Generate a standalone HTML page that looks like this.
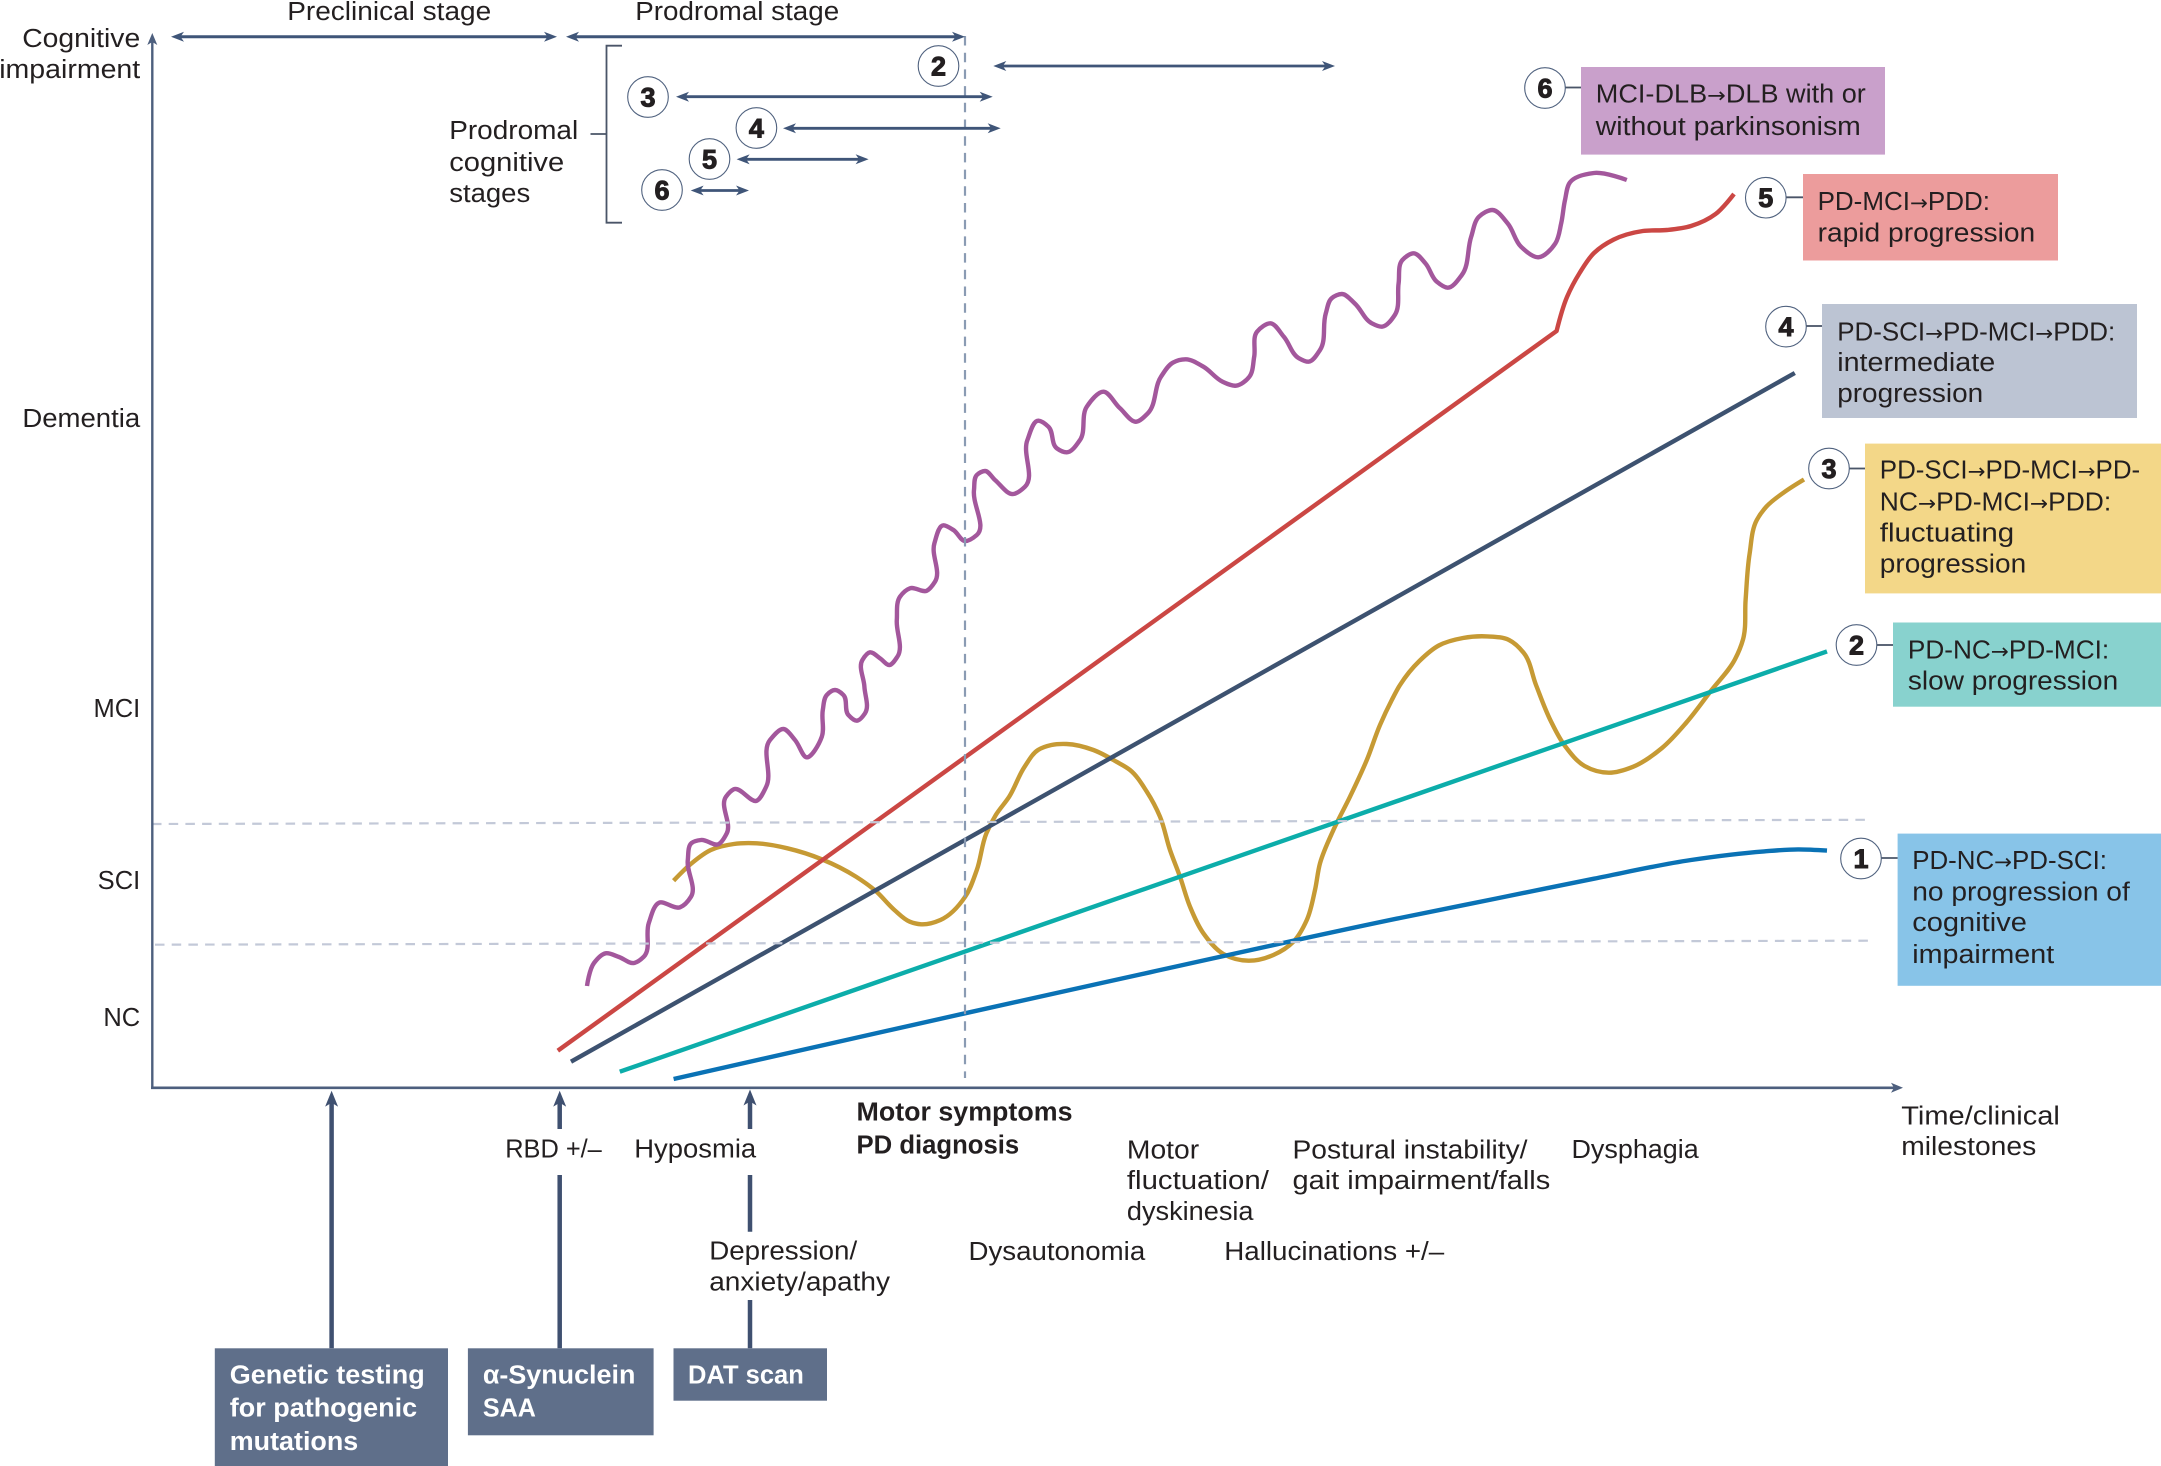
<!DOCTYPE html>
<html lang="en">
<head>
<meta charset="utf-8">
<title>Cognitive impairment trajectories in Parkinson disease</title>
<style>
html,body{margin:0;padding:0;background:#fff;}
svg{display:block;}
text{font-family:"Liberation Sans",sans-serif;font-size:25.5px;fill:#231f20;transform:translateX(-.8px);}
.b{font-weight:700;}
.w{font-weight:700;fill:#fff;}
.n{font-weight:700;font-size:27px;stroke:#231f20;stroke-width:1px;text-anchor:middle;transform:none;}
.ar{font-family:"DejaVu Sans",sans-serif;font-size:21px;}
.c{fill:#fff;stroke:#50627f;stroke-width:1.1;}
.k{stroke:#4a5568;stroke-width:1.8;fill:none;}
.a{stroke:#3f5578;stroke-width:3;fill:none;marker-start:url(#head);marker-end:url(#head);}
.v{stroke:#3f5070;stroke-width:4.5;fill:none;}
</style>
</head>
<body>
<svg id="chart" xmlns="http://www.w3.org/2000/svg" width="2161" height="1466" viewBox="0 0 2161 1466">
<defs>
<marker id="head" markerUnits="userSpaceOnUse" markerWidth="14" markerHeight="11" refX="7" refY="5.5" orient="auto-start-reverse"><path d="M0 .5 13 5.5 0 10.5 3.5 5.5Z" fill="#3f5578"/></marker>
<marker id="head-lg" markerUnits="userSpaceOnUse" markerWidth="17" markerHeight="14" refX="9" refY="7" orient="auto"><path d="M0 .5 16 7 0 13.5 4 7Z" fill="#3f5070"/></marker>
<marker id="head-axis" markerUnits="userSpaceOnUse" markerWidth="14" markerHeight="11" refX="5" refY="5.5" orient="auto"><path d="M0 .5 12 5.5 0 10.5 3 5.5Z" fill="#4d5f7e"/></marker>
</defs>

<g id="series-layer"></g>

<line x1="152.3" y1="1088.5" x2="152.3" y2="40" stroke="#4d5f7e" stroke-width="2.4" marker-end="url(#head-axis)"/>
<line x1="151" y1="1087.8" x2="1896" y2="1087.8" stroke="#4d5f7e" stroke-width="2.6" marker-end="url(#head-axis)"/>

<g>
<text x="23" y="47" textLength="118" lengthAdjust="spacingAndGlyphs">Cognitive</text>
<text x="0" y="78" textLength="141" lengthAdjust="spacingAndGlyphs">impairment</text>
</g>
<g id="y-ticks"></g>
<g>
<text x="1902" y="1124.5" textLength="158.7" lengthAdjust="spacingAndGlyphs">Time/clinical</text>
<text x="1902" y="1155" textLength="135" lengthAdjust="spacingAndGlyphs">milestones</text>
</g>

<text x="288" y="20" textLength="204" lengthAdjust="spacingAndGlyphs">Preclinical stage</text>
<text x="636" y="20" textLength="204" lengthAdjust="spacingAndGlyphs">Prodromal stage</text>
<line class="a" x1="177" y1="36.7" x2="551" y2="36.7"/>
<line class="a" x1="572" y1="36.7" x2="959" y2="36.7"/>

<g>
<text x="450" y="139" textLength="129" lengthAdjust="spacingAndGlyphs">Prodromal</text>
<text x="450" y="171" textLength="115" lengthAdjust="spacingAndGlyphs">cognitive</text>
<text x="450" y="202" textLength="81" lengthAdjust="spacingAndGlyphs">stages</text>
</g>
<path class="k" d="M622 45.7H606.5V222.7H622M590.5 134H606.5"/>

<g>
<circle class="c" cx="938.5" cy="66" r="20.3"/>
<text class="n" x="938.5" y="75.5">2</text>
<line class="a" x1="999.3" y1="66" x2="1329" y2="66" style="stroke-width:2.8"/>
</g>
<g>
<circle class="c" cx="648" cy="97" r="20.3"/>
<text class="n" x="648" y="106.5">3</text>
<line class="a" x1="682" y1="96.7" x2="986.7" y2="96.7" style="stroke-width:2.8"/>
</g>
<g>
<circle class="c" cx="756.4" cy="128" r="20.3"/>
<text class="n" x="756.4" y="137.5">4</text>
<line class="a" x1="789" y1="128.3" x2="994.7" y2="128.3" style="stroke-width:2.8"/>
</g>
<g>
<circle class="c" cx="709.5" cy="159" r="20.3"/>
<text class="n" x="709.5" y="168.5">5</text>
<line class="a" x1="742.6" y1="159.3" x2="862.6" y2="159.3" style="stroke-width:2.8"/>
</g>
<g>
<circle class="c" cx="662" cy="190" r="20.3"/>
<text class="n" x="662" y="199.5">6</text>
<line class="a" x1="696.7" y1="190.5" x2="743" y2="190.5" style="stroke-width:2.8"/>
</g>

<g>
<rect x="1581" y="67" width="304" height="87.6" fill="#c9a0cb"/>
<line class="k" x1="1565" y1="87.5" x2="1581" y2="87.5"/>
<circle class="c" cx="1545" cy="88" r="20.3"/>
<text class="n" x="1545" y="97.5">6</text>
<text x="1596.6" y="102.5" textLength="270" lengthAdjust="spacingAndGlyphs">MCI-DLB<tspan class="ar">→</tspan>DLB with or</text>
<text x="1596.6" y="134.9" textLength="265" lengthAdjust="spacingAndGlyphs">without parkinsonism</text>
</g>
<g>
<rect x="1803" y="174" width="255" height="86.5" fill="#ec9c9c"/>
<line class="k" x1="1786" y1="197.3" x2="1803" y2="197.3"/>
<circle class="c" cx="1765.8" cy="197.7" r="20.3"/>
<text class="n" x="1765.8" y="207.2">5</text>
<text x="1818.4" y="210" textLength="172.4" lengthAdjust="spacingAndGlyphs">PD-MCI<tspan class="ar">→</tspan>PDD:</text>
<text x="1818.4" y="241.6" textLength="217.6" lengthAdjust="spacingAndGlyphs">rapid progression</text>
</g>
<g>
<rect x="1822" y="304" width="315" height="114" fill="#bcc4d3"/>
<line class="k" x1="1806" y1="326" x2="1822" y2="326"/>
<circle class="c" cx="1786" cy="326.6" r="20.3"/>
<text class="n" x="1786" y="336.1">4</text>
<text x="1838" y="340.4" textLength="278" lengthAdjust="spacingAndGlyphs">PD-SCI<tspan class="ar">→</tspan>PD-MCI<tspan class="ar">→</tspan>PDD:</text>
<text x="1838" y="371" textLength="158" lengthAdjust="spacingAndGlyphs">intermediate</text>
<text x="1838" y="402" textLength="146" lengthAdjust="spacingAndGlyphs">progression</text>
</g>
<g>
<rect x="1865" y="443.6" width="296" height="149.8" fill="#f3d788"/>
<line class="k" x1="1849" y1="468.5" x2="1865" y2="468.5"/>
<circle class="c" cx="1829" cy="468.5" r="20.3"/>
<text class="n" x="1829" y="478">3</text>
<text x="1880.6" y="478.7" textLength="260.4" lengthAdjust="spacingAndGlyphs">PD-SCI<tspan class="ar">→</tspan>PD-MCI<tspan class="ar">→</tspan>PD-</text>
<text x="1880.6" y="510.7" textLength="231.4" lengthAdjust="spacingAndGlyphs">NC<tspan class="ar">→</tspan>PD-MCI<tspan class="ar">→</tspan>PDD:</text>
<text x="1880.6" y="541.6" textLength="134.4" lengthAdjust="spacingAndGlyphs">fluctuating</text>
<text x="1880.6" y="572.4" textLength="146.4" lengthAdjust="spacingAndGlyphs">progression</text>
</g>
<g>
<rect x="1893" y="622.5" width="268" height="84.2" fill="#88d2ce"/>
<line class="k" x1="1877" y1="645" x2="1893" y2="645"/>
<circle class="c" cx="1856.5" cy="645" r="20.3"/>
<text class="n" x="1856.5" y="654.5">2</text>
<text x="1908.7" y="658.5" textLength="201.3" lengthAdjust="spacingAndGlyphs">PD-NC<tspan class="ar">→</tspan>PD-MCI:</text>
<text x="1908.7" y="689.3" textLength="210.3" lengthAdjust="spacingAndGlyphs">slow progression</text>
</g>
<g>
<rect x="1897.6" y="833.6" width="263.4" height="152.2" fill="#88c4e8"/>
<line class="k" x1="1881" y1="858" x2="1897.6" y2="858"/>
<circle class="c" cx="1861" cy="858.5" r="20.3"/>
<text class="n" x="1861" y="868">1</text>
<text x="1913" y="868.8" textLength="194.8" lengthAdjust="spacingAndGlyphs">PD-NC<tspan class="ar">→</tspan>PD-SCI:</text>
<text x="1913" y="900.4" textLength="217.6" lengthAdjust="spacingAndGlyphs">no progression of</text>
<text x="1913" y="931" textLength="114.7" lengthAdjust="spacingAndGlyphs">cognitive</text>
<text x="1913" y="962.8" textLength="142" lengthAdjust="spacingAndGlyphs">impairment</text>
</g>

<line class="v" x1="331.6" y1="1348.3" x2="331.6" y2="1097.7" marker-end="url(#head-lg)"/>
<line class="v" x1="559.7" y1="1129" x2="559.7" y2="1097.7" marker-end="url(#head-lg)"/>
<line class="v" x1="559.7" y1="1175" x2="559.7" y2="1348.3"/>
<line class="v" x1="750" y1="1129" x2="750" y2="1096.5" marker-end="url(#head-lg)"/>
<line class="v" x1="750" y1="1175" x2="750" y2="1231.7"/>
<line class="v" x1="750" y1="1300" x2="750" y2="1348.3"/>

<g>
<rect x="214.8" y="1348.3" width="233.2" height="118" fill="#5f6f8a"/>
<text class="w" x="230.6" y="1383.3" textLength="194.9" lengthAdjust="spacingAndGlyphs">Genetic testing</text>
<text class="w" x="230.6" y="1416.7" textLength="187.3" lengthAdjust="spacingAndGlyphs">for pathogenic</text>
<text class="w" x="230.6" y="1450" textLength="128.4" lengthAdjust="spacingAndGlyphs">mutations</text>
</g>
<g>
<rect x="467.9" y="1348.3" width="185.7" height="87" fill="#5f6f8a"/>
<text class="w" x="483.7" y="1383.3" textLength="152.5" lengthAdjust="spacingAndGlyphs">α-Synuclein</text>
<text class="w" x="483.7" y="1416.7" textLength="53" lengthAdjust="spacingAndGlyphs">SAA</text>
</g>
<g>
<rect x="673.5" y="1348.3" width="153.5" height="52.4" fill="#5f6f8a"/>
<text class="w" x="688.8" y="1383.3" textLength="115.8" lengthAdjust="spacingAndGlyphs">DAT scan</text>
</g>

<g>
<text x="506" y="1157.3" textLength="96.6" lengthAdjust="spacingAndGlyphs">RBD +/–</text>
<text x="635" y="1157.3" textLength="122" lengthAdjust="spacingAndGlyphs">Hyposmia</text>
<text class="b" x="857.3" y="1120.7" textLength="216" lengthAdjust="spacingAndGlyphs">Motor symptoms</text>
<text class="b" x="857.3" y="1153.3" textLength="162.7" lengthAdjust="spacingAndGlyphs">PD diagnosis</text>
<text x="1127.7" y="1158.3" textLength="72.3" lengthAdjust="spacingAndGlyphs">Motor</text>
<text x="1127.7" y="1189" textLength="142" lengthAdjust="spacingAndGlyphs">fluctuation/</text>
<text x="1127.7" y="1220" textLength="126.6" lengthAdjust="spacingAndGlyphs">dyskinesia</text>
<text x="1293.3" y="1158.3" textLength="235" lengthAdjust="spacingAndGlyphs">Postural instability/</text>
<text x="1293.3" y="1189" textLength="257.7" lengthAdjust="spacingAndGlyphs">gait impairment/falls</text>
<text x="1572.3" y="1158" textLength="127.2" lengthAdjust="spacingAndGlyphs">Dysphagia</text>
<text x="710" y="1259.3" textLength="148" lengthAdjust="spacingAndGlyphs">Depression/</text>
<text x="710" y="1290.7" textLength="180.8" lengthAdjust="spacingAndGlyphs">anxiety/apathy</text>
<text x="969.3" y="1260" textLength="176.7" lengthAdjust="spacingAndGlyphs">Dysautonomia</text>
<text x="1225" y="1260" textLength="220" lengthAdjust="spacingAndGlyphs">Hallucinations +/–</text>
</g>
</svg>

<script>
const yTickLabels = ['NC', 'SCI', 'MCI', 'Dementia'];
const yTickValues = [7.1, 20.8, 38, 67];

const pdDiagnosisTime = 40.65;

const thresholdSciTime = [0, 85.8];
const thresholdSciValue = [26.4, 26.82];
const thresholdNcTime = [0.15, 85.9];
const thresholdNcValue = [14.33, 14.73];

const series1Time = [26.08, 40.65, 49.9, 62.4, 67.25, 72.1, 76.95, 80.6, 82.3, 83.75];
const series1Value = [0.9, 7.47, 11.57, 17, 18.96, 20.93, 22.8, 23.66, 23.86, 23.74];

const series2Time = [23.39, 83.75];
const series2Value = [1.63, 43.66];

const series3Time = [26.08, 26.98, 27.94, 29.09, 30.24, 31.77, 33.49, 35.2, 36.17, 37.12, 37.89, 38.46, 39.42, 40.66, 41.24, 41.72, 42.19, 42.86, 43.63, 44.3, 44.97, 45.73, 47.07, 48.22, 48.9, 49.74, 50.4, 50.9, 51.4, 51.9, 52.57, 53.57, 54.82, 56.07, 57.07, 57.74, 58.15, 58.4, 59.07, 59.9, 60.74, 61.4, 61.99, 62.4, 63.37, 64.34, 65.55, 66.77, 67.85, 68.59, 69.2, 69.93, 70.65, 71.63, 72.84, 74.05, 75.5, 76.72, 77.94, 79.15, 79.55, 79.68, 79.88, 80.24, 80.73, 81.58, 82.6];
const series3Value = [20.73, 22.47, 23.8, 24.4, 24.47, 23.97, 22.87, 21.13, 19.73, 17.8, 16.63, 16.37, 16.8, 19.13, 21.8, 25.47, 27.3, 29.13, 32.13, 33.8, 34.3, 34.4, 33.8, 32.63, 31.8, 29.63, 27.13, 23.8, 21.13, 18.13, 15.47, 13.4, 12.73, 13.3, 14.63, 16.8, 19.8, 22.47, 25.8, 29.13, 32.8, 36.3, 38.8, 40.3, 42.7, 44.25, 45, 45.16, 44.8, 43.5, 40.3, 36.74, 34.2, 32.2, 31.53, 32.12, 34, 36.55, 39.7, 42.87, 44.85, 48.8, 53.42, 56.8, 58.16, 59.54, 60.85];

const series4Time = [20.95, 82.14];
const series4Value = [2.63, 71.5];

const series5LinearTime = [20.29, 70.23];
const series5LinearValue = [3.73, 75.7];
const series5CurveTime = [70.23, 70.75, 71.38, 72.1, 73.08, 74.54, 75.75, 76.95, 78.18, 79.1];
const series5CurveValue = [75.7, 79.1, 81.5, 83.5, 84.84, 85.7, 85.8, 86.2, 87.4, 89.4];

const series6Time = [21.75, 22.1, 22.68, 23.35, 24.1, 24.59, 24.84, 25.35, 26.4, 26.95, 26.79, 26.98, 27.45, 28.32, 28.74, 28.7, 29.09, 30.24, 30.71, 30.9, 31.57, 32.15, 32.72, 33.49, 33.54, 33.74, 34.15, 34.57, 34.82, 35.24, 35.65, 35.62, 35.52, 35.9, 36.4, 36.87, 37.27, 37.24, 37.4, 37.9, 38.74, 39.15, 39.12, 39.57, 40.07, 40.65, 41.24, 41.1, 41.24, 41.65, 42.15, 43.07, 43.65, 43.77, 44.32, 44.82, 45.24, 45.74, 46.4, 46.74, 47.57, 48.4, 49.22, 49.79, 50.45, 51.04, 51.7, 52.57, 53.53, 54.2, 54.87, 55.11, 55.25, 55.92, 56.59, 57.35, 57.83, 58.4, 58.69, 58.98, 59.5, 60.13, 60.99, 61.5, 62.14, 62.33, 62.52, 63.09, 63.67, 64.24, 64.78, 65.49, 65.96, 66.35, 67.02, 67.78, 68.45, 69.31, 70.17, 70.46, 70.65, 70.9, 72.1, 73.74];
const series6Value = [10.2, 12.5, 13.47, 13.1, 12.5, 13.13, 16.5, 18.53, 18.07, 19.13, 22.8, 24.5, 24.8, 24.37, 25.47, 29.13, 29.87, 28.73, 30.13, 34.8, 35.9, 34.8, 33.07, 35.13, 37.8, 39.3, 39.8, 39.3, 37.3, 36.73, 37.47, 40.13, 42.8, 43.57, 42.97, 42.3, 43.13, 46.8, 49.13, 49.97, 49.73, 50.63, 54.47, 56.27, 55.8, 54.7, 55.3, 59.8, 61.3, 61.7, 60.8, 59.4, 60.13, 64.8, 66.73, 66.13, 63.97, 63.57, 64.8, 68.13, 69.63, 67.97, 66.63, 67.47, 71.13, 72.53, 72.87, 72.13, 70.63, 70.23, 71.13, 73.13, 75.63, 76.47, 75.13, 72.97, 72.63, 73.8, 77.47, 78.97, 79.4, 78.47, 76.47, 76.13, 77.3, 80.47, 82.8, 83.47, 82.47, 80.63, 80.03, 81.3, 85.13, 87.13, 87.8, 86.47, 84.13, 83.07, 84.47, 86.47, 88.8, 90.57, 91.5, 90.8];

const SVG_NS = 'http://www.w3.org/2000/svg';

function xScale(t) {
  return 152 + t * 20;
}

function yScale(v) {
  return 1088 - v * 10;
}

function toPoints(times, values) {
  return times.map(function (t, i) {
    return [xScale(t), yScale(values[i])];
  });
}

function smoothSegments(pts) {
  let d = '';
  for (let i = 0; i < pts.length - 1; i++) {
    const p0 = pts[Math.max(i - 1, 0)];
    const p1 = pts[i];
    const p2 = pts[i + 1];
    const p3 = pts[Math.min(i + 2, pts.length - 1)];
    const d1 = Math.hypot(p1[0] - p0[0], p1[1] - p0[1]);
    const d2 = Math.hypot(p2[0] - p1[0], p2[1] - p1[1]);
    const d3 = Math.hypot(p3[0] - p2[0], p3[1] - p2[1]);
    let c1 = p1;
    let c2 = p2;
    if (d1 > 0) {
      const n = 3 * d1 * (d1 + d2);
      const m = 2 * d1 * d1 + 3 * d1 * d2 + d2 * d2;
      c1 = [(d1 * d1 * p2[0] - d2 * d2 * p0[0] + m * p1[0]) / n, (d1 * d1 * p2[1] - d2 * d2 * p0[1] + m * p1[1]) / n];
    }
    if (d3 > 0) {
      const n = 3 * d3 * (d3 + d2);
      const m = 2 * d3 * d3 + 3 * d3 * d2 + d2 * d2;
      c2 = [(d3 * d3 * p1[0] - d2 * d2 * p3[0] + m * p2[0]) / n, (d3 * d3 * p1[1] - d2 * d2 * p3[1] + m * p2[1]) / n];
    }
    d += 'C' + c1[0].toFixed(2) + ' ' + c1[1].toFixed(2) + ' ' + c2[0].toFixed(2) + ' ' + c2[1].toFixed(2) + ' ' + p2[0].toFixed(2) + ' ' + p2[1].toFixed(2);
  }
  return d;
}

function startAt(pts) {
  return 'M' + pts[0][0].toFixed(2) + ' ' + pts[0][1].toFixed(2);
}

function drawSeries(layer, d, colour, name) {
  const path = document.createElementNS(SVG_NS, 'path');
  path.setAttribute('d', d);
  path.setAttribute('fill', 'none');
  path.setAttribute('stroke', colour);
  path.setAttribute('stroke-width', '4.4');
  path.setAttribute('stroke-linejoin', 'round');
  
  
  layer.appendChild(path);
}

function drawDashed(layer, x1, y1, x2, y2, colour, name) {
  const line = document.createElementNS(SVG_NS, 'line');
  line.setAttribute('x1', x1);
  line.setAttribute('y1', y1);
  line.setAttribute('x2', x2);
  line.setAttribute('y2', y2);
  line.setAttribute('stroke', colour);
  line.setAttribute('stroke-width', '2.2');
  line.setAttribute('stroke-dasharray', '9.5 7.2');
  
  
  layer.appendChild(line);
}

const seriesLayer = document.getElementById('series-layer');

const pts3 = toPoints(series3Time, series3Value);
drawSeries(seriesLayer, startAt(pts3) + smoothSegments(pts3), '#c69a34', 'series-3-fluctuating-progression');

const pts6 = toPoints(series6Time, series6Value);
drawSeries(seriesLayer, startAt(pts6) + smoothSegments(pts6), '#a3579c', 'series-6-mci-dlb');

const pts1 = toPoints(series1Time, series1Value);
drawSeries(seriesLayer, startAt(pts1) + smoothSegments(pts1), '#0a72b5', 'series-1-no-progression');

const pts2 = toPoints(series2Time, series2Value);
drawSeries(seriesLayer, startAt(pts2) + smoothSegments(pts2), '#0cadaa', 'series-2-slow-progression');

const pts4 = toPoints(series4Time, series4Value);
drawSeries(seriesLayer, startAt(pts4) + smoothSegments(pts4), '#3d5270', 'series-4-intermediate-progression');

const pts5a = toPoints(series5LinearTime, series5LinearValue);
const pts5b = toPoints(series5CurveTime, series5CurveValue);
drawSeries(seriesLayer, startAt(pts5a) + smoothSegments(pts5a) + smoothSegments(pts5b), '#cb4744', 'series-5-rapid-progression');

drawDashed(seriesLayer, xScale(thresholdSciTime[0]), yScale(thresholdSciValue[0]), xScale(thresholdSciTime[1]), yScale(thresholdSciValue[1]), '#c3c9d8', 'sci-threshold-line');
drawDashed(seriesLayer, xScale(thresholdNcTime[0]), yScale(thresholdNcValue[0]), xScale(thresholdNcTime[1]), yScale(thresholdNcValue[1]), '#c3c9d8', 'nc-threshold-line');
drawDashed(seriesLayer, xScale(pdDiagnosisTime), yScale(105.2), xScale(pdDiagnosisTime), yScale(1), '#8a9bb3', 'pd-diagnosis-line');

const tickLayer = document.getElementById('y-ticks');
yTickLabels.forEach(function (label, i) {
  const tick = document.createElementNS(SVG_NS, 'text');
  tick.textContent = label;
  tick.setAttribute('x', '141');
  tick.setAttribute('y', yScale(yTickValues[i]) + 9);
  tick.setAttribute('text-anchor', 'end');
  
  
  tickLayer.appendChild(tick);
  if (label.length > 3) {
    tick.setAttribute('textLength', tick.getComputedTextLength() * 1.08);
    tick.setAttribute('lengthAdjust', 'spacingAndGlyphs');
  }
});
</script>
</body>
</html>
